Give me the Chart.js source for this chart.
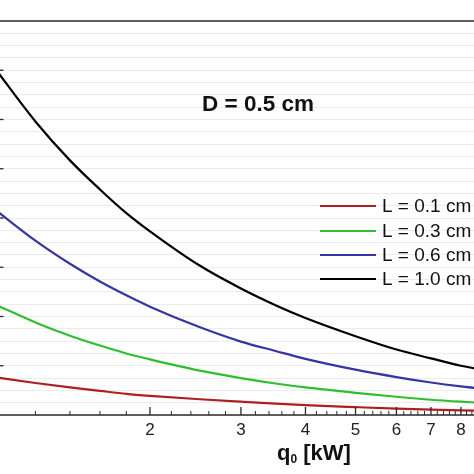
<!DOCTYPE html>
<html>
<head>
<meta charset="utf-8">
<script src="https://cdn.jsdelivr.net/npm/chart.js@4.4.1/dist/chart.umd.min.js"></script>
<style>
  html, body { margin: 0; padding: 0; background: #fff; overflow: hidden; }
  #wrap { position: absolute; left: -40px; top: 0; width: 600px; height: 474px; }
</style>
</head>
<body>
<div id="wrap"><canvas id="lineChart"></canvas></div>
<script>
// q0 [kW] sample positions
const qValues = [1, 1.2, 1.4, 1.6, 1.8, 2, 2.5, 3, 3.5, 4, 5, 6, 7, 8, 9, 10];

// curves for D = 0.5 cm (y axis labels are cut off in the source)
const seriesL01 = [0.77, 0.65, 0.56, 0.49, 0.43, 0.39, 0.32, 0.27, 0.23, 0.20, 0.16, 0.13, 0.11, 0.095, 0.085, 0.075];
const seriesL03 = [2.25, 1.88, 1.61, 1.41, 1.25, 1.13, 0.90, 0.75, 0.64, 0.56, 0.45, 0.37, 0.31, 0.27, 0.24, 0.21];
const seriesL06 = [4.18, 3.54, 3.07, 2.71, 2.43, 2.20, 1.78, 1.49, 1.30, 1.14, 0.92, 0.77, 0.66, 0.58, 0.52, 0.47];
const seriesL10 = [7.05, 5.96, 5.17, 4.58, 4.10, 3.73, 3.03, 2.57, 2.23, 1.97, 1.60, 1.33, 1.15, 1.00, 0.90, 0.82];

const seriesLabels = ['L = 0.1 cm', 'L = 0.3 cm', 'L = 0.6 cm', 'L = 1.0 cm'];
const seriesColors = ['#b01f1f', '#2ebf2e', '#3535a8', '#000000'];

const xTickValues = [1, 2, 3, 4, 5, 6, 7, 8, 9, 10];
const xMinorTicks = [1.2, 1.4, 1.6, 1.8, 2.2, 2.4, 2.6, 2.8, 3.2, 3.4, 3.6, 3.8,
                     4.2, 4.4, 4.6, 4.8, 5.2, 5.4, 5.6, 5.8, 6.2, 6.4, 6.6, 6.8,
                     7.2, 7.4, 7.6, 7.8, 8.2, 8.4, 8.6, 8.8, 9.2, 9.4, 9.6, 9.8];
const yTickValues = [1, 2, 3, 4, 5, 6, 7];

const FONT = "'Liberation Sans', Arial, sans-serif";

function toPoints(vals) {
    return qValues.map((q, i) => ({ x: q, y: vals[i] }));
}

// axis frame, inward ticks, legend and labels
const decor = {
    id: 'decor',
    afterDraw(chart) {
        const ctx = chart.ctx;
        const a = chart.chartArea;
        const x = chart.scales.x;
        const y = chart.scales.y;
        const seg = (x1, y1, x2, y2) => {
            ctx.beginPath(); ctx.moveTo(x1, y1); ctx.lineTo(x2, y2); ctx.stroke();
        };
        ctx.save();
        ctx.strokeStyle = '#2b2b2b';
        ctx.lineWidth = 1.6;
        seg(a.left, a.bottom, a.right, a.bottom);
        seg(a.left, a.top, a.right, a.top);
        seg(a.left, a.top, a.left, a.bottom);

        ctx.lineWidth = 1.3;
        xTickValues.forEach(v => {
            const px = x.getPixelForValue(v);
            seg(px, a.bottom, px, a.bottom - 8);
        });
        ctx.lineWidth = 1;
        xMinorTicks.forEach(v => {
            const px = x.getPixelForValue(v);
            seg(px, a.bottom, px, a.bottom - 4);
        });
        ctx.lineWidth = 1.3;
        yTickValues.forEach(v => {
            const py = y.getPixelForValue(v);
            seg(a.left, py, a.left + 9, py);
        });

        // D label
        ctx.fillStyle = '#111';
        ctx.font = 'bold 22.5px ' + FONT;
        ctx.textAlign = 'center';
        ctx.textBaseline = 'middle';
        ctx.fillText('D = 0.5 cm', 298, 105);

        // legend
        ctx.font = '19px ' + FONT;
        ctx.textAlign = 'left';
        const rows = [206, 231, 255, 279];
        chart.data.datasets.forEach((ds, i) => {
            ctx.strokeStyle = ds.borderColor;
            ctx.lineWidth = 2.2;
            seg(360, rows[i], 416, rows[i]);
            ctx.fillStyle = '#111';
            ctx.fillText(ds.label, 422, rows[i] + 1);
        });

        // x axis title  q0 [kW]
        ctx.fillStyle = '#111';
        ctx.font = 'bold 22px ' + FONT;
        const w1 = ctx.measureText('q').width;
        ctx.font = 'bold 12px ' + FONT;
        const w2 = ctx.measureText('0').width;
        ctx.font = 'bold 22px ' + FONT;
        const w3 = ctx.measureText(' [kW]').width;
        let sx = 354 - (w1 + w2 + w3) / 2;
        ctx.fillText('q', sx, 454);
        ctx.font = 'bold 12px ' + FONT;
        ctx.fillText('0', sx + w1, 460);
        ctx.font = 'bold 22px ' + FONT;
        ctx.fillText(' [kW]', sx + w1 + w2, 454);
        ctx.restore();
    }
};

new Chart(document.getElementById('lineChart'), {
    type: 'line',
    data: {
        datasets: [
            { label: seriesLabels[0], data: toPoints(seriesL01), borderColor: seriesColors[0] },
            { label: seriesLabels[1], data: toPoints(seriesL03), borderColor: seriesColors[1] },
            { label: seriesLabels[2], data: toPoints(seriesL06), borderColor: seriesColors[2] },
            { label: seriesLabels[3], data: toPoints(seriesL10), borderColor: seriesColors[3] }
        ]
    },
    options: {
        animation: false,
        responsive: true,
        maintainAspectRatio: false,
        layout: { padding: { top: 21, right: 49, bottom: 0, left: 0 } },
        elements: {
            line: { borderWidth: 2.2, cubicInterpolationMode: 'monotone', fill: false },
            point: { radius: 0 }
        },
        plugins: {
            legend: { display: false },
            tooltip: { enabled: false }
        },
        scales: {
            x: {
                type: 'logarithmic',
                min: 1,
                max: 10,
                grid: { display: false },
                border: { display: false },
                afterBuildTicks(scale) {
                    scale.ticks = xTickValues.map(v => ({ value: v }));
                },
                afterFit(scale) {
                    scale.height = 59;
                    scale.paddingLeft = 0;
                    scale.paddingRight = 0;
                },
                ticks: {
                    autoSkip: false,
                    maxRotation: 0,
                    padding: -3,
                    color: '#222',
                    font: { size: 17, family: FONT },
                    callback: (v) => String(v)
                }
            },
            y: {
                min: 0,
                max: 8,
                border: { display: false },
                grid: { color: '#ececec', lineWidth: 1, drawTicks: false },
                afterFit(scale) {
                    scale.width = 34.5;
                },
                ticks: { display: false, stepSize: 0.25 }
            }
        }
    },
    plugins: [decor]
});
</script>
</body>
</html>
